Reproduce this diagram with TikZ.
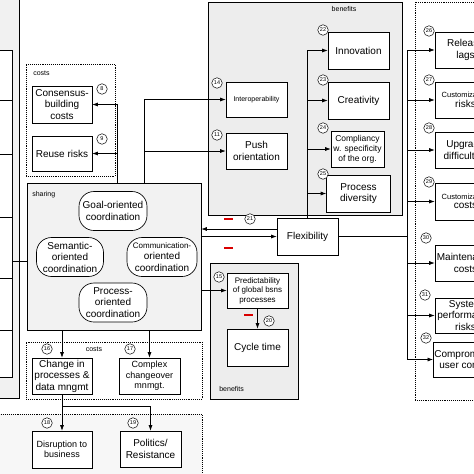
\documentclass[tikz,border=0pt]{standalone}
\usepackage{fontspec}
\setmainfont{Liberation Sans}
\usetikzlibrary{arrows.meta,positioning}

\begin{document}
\begin{tikzpicture}[x=1pt, y=-1pt, line width=0.65pt,
  font=\fontsize{10}{11.5}\selectfont, >={Latex[length=5.5pt,width=4pt]},
  box/.style={draw, fill=white, align=center, minimum width=61pt, minimum height=36pt, inner sep=1pt},
  coordbox/.style={draw, fill=white, rounded corners=15pt, align=center, minimum width=68pt, minimum height=39pt, inner sep=0pt},
  num/.style={draw, circle, fill=white, inner sep=0pt, minimum size=10.5pt, line width=0.5pt, font=\fontsize{5.5}{6}\selectfont},
  grp/.style={draw, fill=gray!14, inner sep=0pt},
  dgrp/.style={draw, densely dotted, line width=0.9pt, inner sep=0pt},
  tag/.style={font=\fontsize{7}{8}\selectfont, inner sep=0pt},
  neg/.style={fill=red!85!black, minimum width=9pt, minimum height=2pt, inner sep=0pt}]
\clip (0,0) rectangle (474,474);
% groups
\node[grp, fill=gray!11, minimum width=40pt, minimum height=410pt] (panel) at (-1,193) {};
\node[draw, fill=white, minimum width=32pt, minimum height=327pt, inner sep=0pt] (leftcol) at (-4,213.5) {};
\foreach \y in {100,154,217,278,330} \draw (leftcol.west |- 0,\y) -- (leftcol.east |- 0,\y);
\node[dgrp, minimum width=89pt, minimum height=112pt] (costsA) at (70.5,120) {};
\node[grp, fill=gray!10, minimum width=174pt, minimum height=147pt] (sharing) at (114,256.5) {};
\node[grp, minimum width=194pt, minimum height=213pt] (benA) at (305,108.5) {};
\node[grp, minimum width=88pt, minimum height=136pt] (benB) at (254,331) {};
\node[dgrp, minimum width=176pt, minimum height=57pt] (costsB) at (114,370.5) {};
\node[dgrp, fill=gray!6, minimum width=212pt, minimum height=86pt] (risks) at (96,457) {};
\node[dgrp, minimum width=85pt, minimum height=398pt] (costsC) at (457.5,201) {};
\node[tag, anchor=west] (lcostsA) at (33,73) {costs};
\node[tag, anchor=west] (lsharing) at (32,195) {sharing};
\node[tag] (lbenA) at (344,9) {benefits};
\node[tag, anchor=west] (lbenB) at (219,389) {benefits};
\node[tag] (lcostsB) at (94,349) {costs};
% sharing
\node[coordbox] (goal) at (113,211) {Goal-oriented\\coordination};
\node[coordbox, minimum width=67pt] (sem) at (70,257) {Semantic-\\oriented\\coordination};
\node[coordbox, minimum width=70pt] (comm) at (162,257) {{\fontsize{8}{9}\selectfont Communication-}\\oriented\\coordination};
\node[coordbox] (proc) at (113,302.5) {Process-\\oriented\\coordination};
% costs
\node[box, minimum width=60pt, minimum height=37pt] (cons) at (62,104.5) {Consensus-\\building\\costs};
\node[box, minimum width=60pt, minimum height=35pt] (reuse) at (62,153.5) {Reuse risks};
\node[box, minimum width=60pt] (change) at (62,376) {Change in\\processes \&\\data mngmt};
\node[box, font=\fontsize{9}{10.5}\selectfont] (complex) at (149.5,376) {Complex\\changeover\\mnmgt.};
\node[box, minimum width=60pt, minimum height=37pt, font=\fontsize{9}{10.5}\selectfont] (disrupt) at (62,449.5) {Disruption to\\business};
\node[box] (politics) at (150.5,449) {Politics/\\Resistance};
% benefits
\node[box, minimum height=35pt, font=\fontsize{7}{8}\selectfont] (interop) at (256.5,99.5) {Interoperability};
\node[box] (push) at (256.5,151) {Push\\orientation};
\node[box, minimum height=37pt] (innov) at (358.5,50.5) {Innovation};
\node[box, minimum height=37pt] (creat) at (358.5,100.5) {Creativity};
\node[box, minimum width=53pt, font=\fontsize{8.5}{10}\selectfont] (compl) at (357.5,149) {Compliancy\\w. specificity\\of the org.};
\node[box, minimum width=64pt, minimum height=37pt] (divers) at (358.5,193.5) {Process\\diversity};
\node[box, minimum height=37pt] (flex) at (307.5,236.5) {Flexibility};
\node[box, minimum height=35pt, font=\fontsize{8}{9.5}\selectfont] (pred) at (257.5,290.5) {Predictability\\of global bsns\\processes};
\node[box, minimum height=37pt] (cycle) at (257.5,347.5) {Cycle time};
% right costs
\node[box] (r26) at (465.5,50) {Release\\lags};
\node[box, font=\fontsize{7.5}{9.5}\selectfont] (r27) at (465.5,100) {Customization\\{\fontsize{10}{11.5}\selectfont risks}};
\node[box] (r28) at (465.5,150) {Upgrade\\difficulties};
\node[box, minimum height=37pt, font=\fontsize{7.5}{9.5}\selectfont] (r29) at (465.5,201.5) {Customization\\{\fontsize{10}{11.5}\selectfont costs}};
\node[box] (r30) at (465.5,263) {Maintenance\\costs};
\node[box, minimum height=35pt] (r31) at (465.5,315.5) {System\\performance\\risks};
\node[box, minimum height=35pt] (r32) at (465.5,359.5) {Compromised\\user control};
% connectors
\coordinate (busA) at (117,0);
\coordinate (busB) at (144,0);
\coordinate (busD) at (407,0);
\draw (leftcol.east |- 0,261) -- (sharing.west |- 0,261);
\draw[->] (sharing.north -| busA) |- (cons.east);
\draw[->] (sharing.north -| busA) |- (reuse.east);
\draw[->] (sharing.north -| busB) |- (interop.west);
\draw[->] (sharing.north -| busB) |- (push.west);
\draw[->] ([yshift=7.5pt]flex.west) -- ([yshift=7.5pt]flex.west -| sharing.east);
\draw[->] (sharing.east |- flex.west) -- (flex.west);
\foreach \b in {innov,creat,compl,divers} \draw[->] (flex.north) |- (\b.west);
\foreach \r in {r26,r27,r28,r29,r30,r31,r32} \draw[->] (flex.east) -| (busD |- \r.west) -- (\r.west);
\draw[->] (sharing.east |- pred.west) -- (pred.west);
\draw[->] (pred) -- (cycle);
\draw[->] (sharing.south -| change) -- (change.north);
\draw[->] (sharing.south -| complex) -- (complex.north);
\draw[->] (change) -- (disrupt);
\draw[->] (change.south) -- ++(0,12) -| (politics.north);
% numbers and signs
\foreach \n/\x/\y in {8/102/89, 9/102/139, 14/217/83, 11/217/135, 22/323/30, 23/323/80,
  24/323/128, 25/323/174, 21/250/219, 15/219/277, 20/269/321, 16/47/349, 17/130/349,
  18/47/423, 19/133/423, 26/429/31, 27/429/80, 28/429/128, 29/429/182, 30/426/238,
  31/425/295, 32/426/338}
  \node[num] (n\n) at (\x,\y) {\n};
\node[neg] (m1) at (228,219) {};
\node[neg] (m2) at (228,248) {};
\node[neg] (m3) at (248,315) {};
\end{tikzpicture}
\end{document}
